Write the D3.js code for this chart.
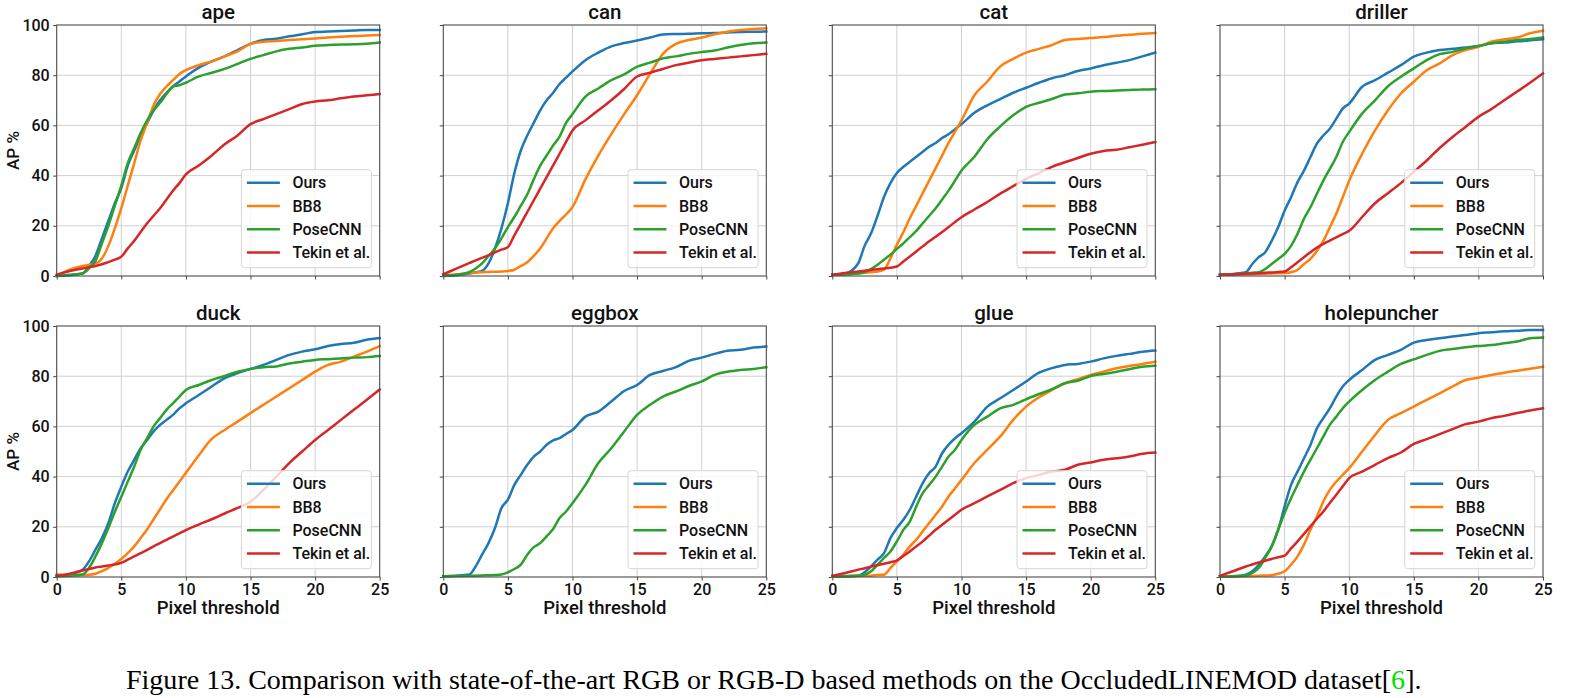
<!DOCTYPE html>
<html><head><meta charset="utf-8">
<script src="https://cdn.jsdelivr.net/npm/d3@7"></script>
<style>
html,body{margin:0;padding:0;background:#fff;}
svg{display:block;}
</style></head>
<body><svg id="c" width="1596" height="698"></svg>
<script>
// ---------- data ----------
const objects = ["ape","can","cat","driller","duck","eggbox","glue","holepuncher"];
const methods = ["Ours","BB8","PoseCNN","Tekin et al."];
const colors = ["#1f77b4","#ff7f0e","#2ca02c","#d62728"];
const xTicks = [0,5,10,15,20,25];
const yTicks = [0,20,40,60,80,100];
const xs = [0,1,2,2.5,3,3.5,4,4.5,5,5.5,6,6.5,7,7.5,8,8.5,9,9.5,10,11,12,13,14,15,16,17,18,19,20,21,22,23,24,25];

const ape_ours    = [0,0.5,1,4,8,15,22,29,35,44,50,56,61,66,70,73,75.5,77.5,79.5,83,85.5,87.5,90,92.5,94,94.5,95.5,96.3,97.2,97.4,97.6,97.8,98,98];
const ape_bb8     = [0,2.5,4,4.5,5,7,12,19,27,36,45,54,61,68,72.5,75.5,78,80.5,82,84,85.5,87.5,89.5,92.5,93.3,93.6,94,94.3,94.6,95,95.3,95.6,95.8,96];
const ape_posecnn = [0,0.3,1,3,6,13,20,28,36,45,51,57,62,66,69,72.5,75.5,76,77,79.5,81,82.5,84.5,86.5,88,89.5,90.5,91,91.7,92,92.2,92.3,92.5,93];
const ape_tekin   = [0.5,2,3,3.5,4,4.7,5.5,6.5,7.7,11,14,17.5,21,24,27,30.5,34,37,40.5,44,48,52.5,56,60.5,62.5,64.5,66.5,68.5,69.5,70,70.8,71.5,72,72.5];

const can_ours    = [0,0.3,1,1.5,2,5,11,19,29,41,50,56,61,66,70,73,76.5,79,81.5,86,89,91.5,92.8,93.8,95,96.2,96.4,96.5,96.7,96.8,97,97.2,97.3,97.4];
const can_bb8     = [0.3,0.6,1.2,1.4,1.5,1.6,1.7,1.8,2,2.5,4,5.5,8,11,15,19,22,24.5,27.5,38.5,48,56.5,64.5,72,80.5,88.5,92.5,94,95,96.3,97.3,98,98.4,98.7];
const can_posecnn = [0.3,0.5,1.5,3,5,8,11,15,19.5,23.5,28,32.5,38.5,44,48,52,55.5,61,64.5,71.5,74.7,78,80.3,83.4,85,86.7,87.5,88.5,89.2,89.8,91,92,92.7,93];
const can_tekin   = [0.7,2.9,5.1,6.2,7.2,8.3,9.4,10.5,11.5,16.2,20.8,25.5,30.1,34.8,39.4,44.1,48.7,53.4,58,62,66,70,74.5,79.5,81,82.5,84,85,86,86.5,87,87.5,88,88.5];

const cat_ours    = [0.5,1,5,12,17,24,31.5,37,41,43.5,45.5,47.5,49.5,51.5,53,55,56.5,58.5,60.5,65,68,70.5,73,75,77,78.8,80,81.7,82.7,84,85,86,87.5,89];
const cat_bb8     = [0.5,0.7,1,1.3,1.5,1.8,2.5,7,12.5,17.5,23,28,33,38,43,48,53,57.5,62,72,77.5,83.5,86.5,89,90.5,92,94,94.4,94.8,95.2,95.7,96.1,96.5,96.8];
const cat_posecnn = [0.5,0.6,1,1.5,2.8,4.5,6.5,8.5,10.8,13,15.5,18,21,24,27,30.5,34,38,42,47.5,54.5,59.6,64,67.4,69,70.5,72.3,72.8,73.4,73.7,73.9,74.1,74.3,74.4];
const cat_tekin   = [0.5,1.2,1.8,2.1,2.4,2.7,3,3.3,3.8,5.8,7.8,9.8,11.8,13.8,15.6,17.5,19.5,21.5,23.4,26.5,29.5,32.8,35.8,38.7,41,43.5,45.3,47,48.7,49.8,50.3,51.3,52.3,53.4];

const driller_ours    = [0.5,0.8,1.5,4.8,7.5,9.5,14,19.4,26,31.4,37.4,42,47.4,52.7,56,58.7,62.7,66.7,68.7,75.4,78,81,84,87.4,89,90,90.5,91,91.6,92.7,93,93.5,93.9,94.3];
const driller_bb8     = [0.5,0.6,0.7,0.7,0.8,0.9,1,1.1,1.2,1.5,2.4,4.8,6.8,10,14,19.4,24.8,31.4,38,48.7,58,66,72.7,77.4,82,84.7,88,90,91.3,93.3,94.3,95,96.7,97.7];
const driller_posecnn = [0.5,0.7,1,1.3,1.5,2.8,4.8,6.8,8.8,12,16.8,22.8,27.4,32.8,38,42.7,47.4,53.4,57.4,64.7,70,75.6,79.4,82.7,86,88.4,89.3,90.7,91.6,92.7,93.3,94,94.4,95];
const driller_tekin   = [0.5,0.7,0.9,1,1.1,1.3,1.4,1.6,1.8,3.5,5.5,7.5,9.5,11.3,12.8,14.1,15.4,16.7,18,23.5,29,33,37,41.5,46,51,55.4,59.4,63.4,66.5,70,73.5,77,80.7];

const duck_ours    = [0.5,1,2.9,6.2,10.9,15.5,21.5,29.4,36,42,46.7,51.3,54.6,58,60.6,62.6,64.6,67.2,69.2,72.5,75.9,79.2,81.2,82.9,84.5,86.5,88.5,89.8,90.7,92,92.8,93.3,94.5,95.2];
const duck_bb8     = [1,0.8,0.8,0.9,1.3,2.3,3.6,5.3,7.2,9.5,12.2,15.5,19,23,27,31,34.5,38,41.5,48.5,55,58.6,61.9,65.3,68.6,71.9,75.2,78.5,81.8,84.5,85.8,87.8,89.8,92];
const duck_posecnn = [0.3,0.5,1,3.6,8.2,13.5,19.5,26,32,38,44,50.7,55.3,60,63.3,66.6,69.2,71.9,74.5,76.5,78.5,80.1,81.8,82.9,83.6,83.9,85.1,85.8,86.5,86.8,87.1,87.4,87.6,88];
const duck_tekin   = [0.5,1.3,2.6,3.2,3.8,4.2,4.6,5,5.6,6.9,8.2,9.5,10.8,12.2,13.5,14.8,16.1,17.4,18.7,20.9,23,25.3,27.5,30,34.7,40,45.4,50,54.6,58.6,62.6,66.6,70.6,74.7];

const eggbox_ours    = [0.3,0.5,1,4.2,8.9,13.5,19.5,27.5,30.8,36.7,40.7,44.7,48,50,52.7,54.4,55.3,57,58.6,63.9,65.9,69.9,74.1,76.5,80.5,82.1,83.6,86.1,87.4,88.9,90.1,90.5,91.4,91.8];
const eggbox_posecnn = [0.3,0.4,0.5,0.5,0.6,0.7,0.8,1,1.9,3.2,4.9,8.9,11.9,13.5,16.2,19.1,23.5,26.1,29.4,36.7,45.4,51.3,58,64.6,68.6,71.9,73.9,76.1,77.9,80.5,81.8,82.5,82.9,83.6];

const glue_ours    = [0.2,0.4,0.5,1.9,4.2,6.9,9.5,15.5,19.5,22.8,26.8,32.1,37.4,41.4,44,49.3,52.7,55.3,57.3,61.9,67.9,71.2,74.5,77.9,81.4,83.2,84.5,84.9,85.8,87.1,88.1,88.9,89.7,90.2];
const glue_bb8     = [0.2,0.3,0.5,0.5,0.5,0.8,0.9,3.6,6.2,8.9,12.2,14.9,18.2,21.5,24.8,28.1,32.1,35.4,38.7,45.4,50.7,56,62.6,67.9,71.6,74.5,77.2,78.8,80.5,81.8,83.2,84.1,84.9,85.8];
const glue_posecnn = [0.2,0.3,0.5,0.9,2.3,4.9,7.6,10.2,14.2,18.8,22.1,28.1,33.4,36.7,40,44,48,50.7,54.6,60.6,63.9,67.2,68.6,70.8,72.9,74.8,77.2,78.2,80.1,80.9,81.8,82.8,83.8,84.2];
const glue_tekin   = [0.5,1.6,2.9,3.5,4.2,4.7,5.3,5.9,6.6,8.4,10.2,12.2,14.2,16.5,18.8,20.8,22.8,24.8,26.8,29.4,32.1,34.7,37.4,39.4,40.7,42,42.7,44.7,45.6,46.7,47.3,48,49.1,49.6];

const holepuncher_ours    = [0.2,0.3,0.9,2.3,4.9,8.2,12.2,18.8,28.1,36.7,42,47.3,52.6,59.2,63.3,67.2,71.9,75.9,78.5,82.5,86.5,88.5,90.5,93.4,94.4,95.1,95.8,96.4,97.1,97.5,97.9,98.1,98.4,98.4];
const holepuncher_bb8     = [0.3,0.3,0.4,0.4,0.5,0.6,0.7,1.3,2.3,4.9,8.2,12.9,18.8,24.1,30.1,34.7,38,40.7,43.4,50,56.6,62.6,65.3,67.9,70.6,73.2,75.9,78.5,79.4,80.5,81.4,82.2,83,83.8];
const holepuncher_posecnn = [0.2,0.3,0.5,1.6,3.6,7.6,12.2,18.8,25.5,31.4,36.7,42,46.7,51.3,56,60.6,63.9,67.2,69.9,74.5,78.5,81.8,84.9,86.7,88.5,90.1,90.8,91.5,92,92.4,93.1,93.8,95.1,95.4];
const holepuncher_tekin   = [0.5,2.3,4.2,5,5.8,6.5,7.2,7.9,8.5,11.4,14.2,17.2,20.2,23.2,26.1,29.5,32.8,36.1,39.4,42,44.7,47.4,49.6,53,54.9,56.9,58.9,60.9,61.9,63.3,64.2,65.3,66.3,67.2];

const seriesByObject = {
  ape: [ape_ours, ape_bb8, ape_posecnn, ape_tekin],
  can: [can_ours, can_bb8, can_posecnn, can_tekin],
  cat: [cat_ours, cat_bb8, cat_posecnn, cat_tekin],
  driller: [driller_ours, driller_bb8, driller_posecnn, driller_tekin],
  duck: [duck_ours, duck_bb8, duck_posecnn, duck_tekin],
  eggbox: [eggbox_ours, null, eggbox_posecnn, null],
  glue: [glue_ours, glue_bb8, glue_posecnn, glue_tekin],
  holepuncher: [holepuncher_ours, holepuncher_bb8, holepuncher_posecnn, holepuncher_tekin]
};

// ---------- layout ----------
const svg = d3.select("#c");
const FONT = "Roboto, 'DejaVu Sans', sans-serif";
const colX = [56.7, 443.3, 832.3, 1220];
const rowY = [25, 326];
const PW = 323, PH = 251;

objects.forEach((name, i) => {
  const col = i % 4, row = Math.floor(i / 4);
  const x0 = colX[col], y0 = rowY[row];
  const x = d3.scaleLinear().domain([0, 25]).range([x0, x0 + PW]);
  const y = d3.scaleLinear().domain([0, 100]).range([y0 + PH, y0]);
  const g = svg.append("g");

  // grid
  g.append("g").selectAll("line").data(xTicks.slice(1, -1)).join("line")
    .attr("x1", d => x(d)).attr("x2", d => x(d)).attr("y1", y0).attr("y2", y0 + PH)
    .attr("stroke", "#d0d0d0").attr("stroke-width", 1);
  g.append("g").selectAll("line").data(yTicks.slice(1, -1)).join("line")
    .attr("y1", d => y(d)).attr("y2", d => y(d)).attr("x1", x0).attr("x2", x0 + PW)
    .attr("stroke", "#d0d0d0").attr("stroke-width", 1);

  // axes
  const ax = g.append("g").attr("transform", `translate(0,${y0 + PH})`)
    .call(d3.axisBottom(x).tickValues(xTicks).tickSize(3.5).tickPadding(3.5)
      .tickFormat(row === 1 ? d3.format("d") : () => ""));
  const ay = g.append("g").attr("transform", `translate(${x0},0)`)
    .call(d3.axisLeft(y).tickValues(yTicks).tickSize(3.5).tickPadding(3.5)
      .tickFormat(col === 0 ? d3.format("d") : () => ""));
  [ax, ay].forEach(a => {
    a.select(".domain").remove();
    a.selectAll(".tick line").attr("stroke", "#444").attr("stroke-width", 1);
    a.selectAll(".tick text").attr("font-family", FONT).attr("font-size", 16)
      .attr("font-weight", 500).attr("fill", "#111");
  });

  // lines
  const line = d3.line().x((d, k) => x(xs[k])).y(d => y(d)).curve(d3.curveMonotoneX);
  seriesByObject[name].forEach((vals, s) => {
    if (!vals) return;
    g.append("path").attr("d", line(vals)).attr("fill", "none")
      .attr("stroke", colors[s]).attr("stroke-width", 2.5)
      .attr("stroke-linejoin", "round").attr("stroke-linecap", "square");
  });

  // frame
  g.append("rect").attr("x", x0).attr("y", y0).attr("width", PW).attr("height", PH)
    .attr("fill", "none").attr("stroke", "#4a4a4a").attr("stroke-width", 1.1);

  // title
  g.append("text").attr("x", x0 + PW / 2).attr("y", y0 - 6).attr("text-anchor", "middle")
    .attr("font-family", FONT).attr("font-size", 20.5).attr("font-weight", 500).attr("fill", "#111")
    .text(name);

  if (col === 0) {
    g.append("text").attr("transform", `translate(19,${y0 + PH / 2}) rotate(-90)`)
      .attr("text-anchor", "middle").attr("font-family", FONT).attr("font-size", 17)
      .attr("font-weight", 500).attr("fill", "#111").text("AP %");
  }
  if (row === 1) {
    g.append("text").attr("x", x0 + PW / 2).attr("y", y0 + PH + 37).attr("text-anchor", "middle")
      .attr("font-family", FONT).attr("font-size", 18.5).attr("font-weight", 500).attr("fill", "#111")
      .text("Pixel threshold");
  }

  // legend
  const LW = 130, LH = 98;
  const lx = x0 + PW - 8.3 - LW, ly = y0 + PH - 8.3 - LH;
  const lg = g.append("g");
  lg.append("rect").attr("x", lx).attr("y", ly).attr("width", LW).attr("height", LH).attr("rx", 3)
    .attr("fill", "#fff").attr("fill-opacity", 0.8).attr("stroke", "#d6d6d6").attr("stroke-width", 1);
  methods.forEach((m, s) => {
    const yy = ly + 13 + s * 23.3;
    lg.append("line").attr("x1", lx + 5.5).attr("x2", lx + 38.5).attr("y1", yy).attr("y2", yy)
      .attr("stroke", colors[s]).attr("stroke-width", 2.5);
    lg.append("text").attr("x", lx + 51).attr("y", yy).attr("dy", "0.36em")
      .attr("font-family", FONT).attr("font-size", 16).attr("font-weight", 500).attr("fill", "#111")
      .text(m);
  });
});

// caption
const capStart = 126, capEnd = 1422;
const cap = svg.append("text").attr("x", capStart).attr("y", 689)
  .attr("font-family", "'Liberation Serif', 'Times New Roman', serif").attr("font-size", 26).attr("fill", "#000");
cap.append("tspan").text("Figure 13. Comparison with state-of-the-art RGB or RGB-D based methods on the OccludedLINEMOD dataset[");
cap.append("tspan").attr("fill", "#00e000").text("6");
cap.append("tspan").text("].");
const w = cap.node().getComputedTextLength();
if (w > 0) cap.attr("font-size", 26 * (capEnd - capStart) / w);
</script>
</body></html>
